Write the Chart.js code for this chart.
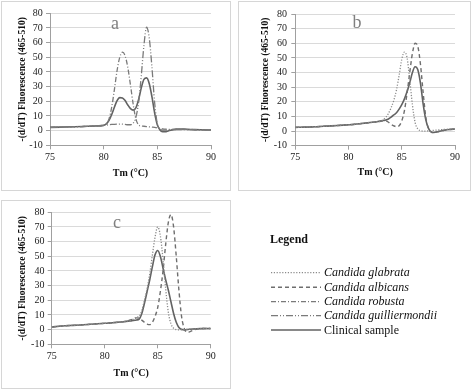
<!DOCTYPE html>
<html>
<head>
<meta charset="utf-8">
<script src="https://cdn.jsdelivr.net/npm/chart.js@4.4.0/dist/chart.umd.min.js"></script>
<style>
  html, body { margin: 0; padding: 0; background: #fff; }
  body { width: 474px; height: 391px; position: relative; overflow: hidden; font-family: "Liberation Serif", "Times New Roman", serif; }
  .box { position: absolute; border: 1px solid #d6d6d6; box-sizing: border-box; }
  canvas { position: absolute; }
  .plabel { position: absolute; font-size: 18px; color: #808080; line-height: 18px; transform: translate(-50%, -50%); }
  .legtitle { position: absolute; left: 270px; top: 231px; font-weight: bold; font-size: 12px; line-height: 16px; color: #111; }
  .legitem { position: absolute; left: 324px; font-size: 12px; line-height: 14px; color: #111; white-space: nowrap; }
  .legitem i { font-style: italic; }
  svg.leg { position: absolute; left: 0; top: 0; }
</style>
</head>
<body>
<div class="box" style="left:1px;top:1px;width:230px;height:190px;"></div>
<div class="box" style="left:238px;top:1px;width:233px;height:190px;"></div>
<div class="box" style="left:1px;top:200px;width:230px;height:189px;"></div>
<canvas id="ca" width="228" height="188" style="left:2px;top:2px;"></canvas>
<canvas id="cb" width="231" height="188" style="left:239px;top:2px;"></canvas>
<canvas id="cc" width="228" height="187" style="left:2px;top:201px;"></canvas>
<div class="plabel" style="left:115px;top:23px;">a</div>
<div class="plabel" style="left:357px;top:22px;">b</div>
<div class="plabel" style="left:117px;top:222px;">c</div>

<div class="legtitle">Legend</div>
<svg class="leg" width="474" height="391" id="legsvg"></svg>
<div id="legitems"></div>

<script>
// ---- Data ----
const temps = [75,76,77,78,79,80,80.25,80.5,80.75,81,81.25,81.5,81.75,82,82.25,82.5,82.75,83,83.25,83.5,83.75,84,84.25,84.5,84.75,85,85.25,85.5,85.75,86,86.25,86.5,86.75,87,87.25,87.5,87.75,88,88.5,89,89.5,90];

// Panel a
const robustaA = [2.2,2.4,2.6,2.8,3.1,3.6,4.5,8,16,28,41,50,53.5,51,43,31,18,8,4,3.2,3,2.8,2.6,2.4,2.2,1.9,1.5,1.2,1,0.9,0.9,0.9,0.9,0.9,0.9,0.8,0.8,0.8,0.7,0.6,0.5,0.5];
const guilliermondiiA = [2.2,2.4,2.6,2.8,3.1,3.6,3.8,4,4.2,4.3,4.4,4.5,4.4,4.2,4,4,5,9,19,37,58,70.5,63,43,19,4.5,1,0.3,0.3,0.5,0.6,0.7,0.7,0.7,0.7,0.7,0.7,0.7,0.6,0.6,0.5,0.5];
const clinicalA = [2.2,2.4,2.6,2.8,3.1,3.6,4.6,7,11,16,20.5,22.5,22.3,20.5,17.5,15,14,15.5,21,29,35,36,32,23,12,4,0.5,-0.7,-0.8,-0.2,0.3,0.7,1,1.1,1.1,1,0.9,0.8,0.7,0.6,0.5,0.4];

// Panel b
const glabrataB = [2.5,2.7,3.0,3.4,3.8,4.3,4.4,4.6,4.8,5.0,5.2,5.4,5.6,5.8,6.0,6.2,6.5,6.9,7.8,9.5,12,16,21,28,38,49,54,50,35,18,6,1.5,0.3,0,0,0.1,0.3,0.5,0.8,1.1,1.3,1.5];
const albicansB = [2.5,2.7,3.0,3.4,3.8,4.3,4.4,4.6,4.8,5.0,5.2,5.4,5.6,5.8,6.0,6.2,6.5,6.8,7.0,7.0,6.0,4.6,3.6,3.0,3.6,7,14,26,40,53,60,58,46,27,10,2,-0.5,-1,-0.2,0.6,1.1,1.4];
const clinicalB = [2.5,2.7,3.0,3.4,3.8,4.3,4.4,4.6,4.8,5.0,5.2,5.4,5.6,5.8,6.0,6.2,6.5,6.8,7.2,7.6,8.3,9.5,11,12.5,15,18,22,27,33,40,44,42,33,19,8,2,-0.5,-1,-0.2,0.6,1.1,1.4];

// Panel c
const glabrataC = [1.8,2.5,2.9,3.3,3.8,4.3,4.4,4.5,4.7,4.9,5.0,5.2,5.4,5.6,6.0,6.5,7.3,8.5,9,13,20,28,38,51,63,70,64,48,28,12,4,1,0,-0.2,-0.2,0,0.2,0.4,0.6,0.7,0.8,0.8];
const albicansC = [1.8,2.5,2.9,3.3,3.8,4.3,4.4,4.5,4.7,4.9,5.0,5.2,5.4,5.6,6.2,6.8,7.5,8,7.8,6.5,5,3.8,3.4,5,9,15,26,40,58,73,78.5,70,50,27,9,1,-1.8,-1.5,0,0.7,0.8,0.8];
const clinicalC = [1.8,2.5,2.9,3.3,3.8,4.3,4.4,4.5,4.7,4.9,5.0,5.2,5.4,5.6,5.8,6.0,6.3,6.6,7.2,11,18,26,34,43,51,54,50,42,34,27,19,11,5,1.5,0.2,-0.3,0,0.3,0.5,0.7,0.8,0.8];

const xTicks = [75, 80, 85, 90];
const yTicks = [-10, 0, 10, 20, 30, 40, 50, 60, 70, 80];

// ---- Styles ----
const STY = {
  glabrata: { dash: [1.2, 1.6], color: '#8a8a8a', width: 1.3 },
  albicans: { dash: [4, 3], color: '#6e6e6e', width: 1.4 },
  robusta: { dash: [5, 2, 1, 2], color: '#7a7a7a', width: 1.3 },
  guilliermondii: { dash: [7, 2, 1, 2, 1, 2], color: '#7a7a7a', width: 1.3 },
  clinical: { dash: [], color: '#626262', width: 1.6 }
};

function ds(values, key) {
  const s = STY[key];
  return {
    data: temps.map((t, i) => ({ x: t, y: values[i] })),
    borderColor: s.color, borderWidth: s.width, borderDash: s.dash,
    pointRadius: 0, fill: false, cubicInterpolationMode: 'monotone'
  };
}

const SERIF = "'Liberation Serif', 'Times New Roman', serif";
Chart.defaults.font.family = SERIF;
const tickFont = { family: SERIF, size: 10 };
const titleFont = { family: SERIF, size: 10, weight: 'bold' };

function makeChart(id, datasets, g) {
  return new Chart(document.getElementById(id), {
    type: 'line',
    data: { datasets },
    options: {
      responsive: false, animation: false, devicePixelRatio: 1,
      layout: { padding: { top: g.top, right: g.right, left: 0, bottom: 0 } },
      plugins: { legend: { display: false }, tooltip: { enabled: false } },
      scales: {
        x: {
          type: 'linear', min: xTicks[0], max: xTicks[xTicks.length - 1],
          afterBuildTicks: (s) => { s.ticks = xTicks.map(v => ({ value: v })); },
          ticks: { font: tickFont, color: '#222', padding: 2, maxRotation: 0, autoSkip: false },
          grid: { drawOnChartArea: false, tickLength: 4, tickColor: '#a0a0a0' },
          border: { color: '#a0a0a0' },
          title: { display: true, text: 'Tm (°C)', font: titleFont, color: '#111', padding: { top: 0, bottom: g.xtb } },
          afterFit: (s) => { s.height = g.xh; }
        },
        y: {
          type: 'linear', min: yTicks[0], max: yTicks[yTicks.length - 1],
          afterBuildTicks: (s) => { s.ticks = yTicks.map(v => ({ value: v })); },
          ticks: { font: tickFont, color: '#222', padding: g.ytp, autoSkip: false },
          grid: { color: '#dadada', tickLength: 4, tickColor: '#a0a0a0' },
          border: { color: '#a0a0a0' },
          title: { display: true, text: '-(d/dT) Fluorescence (465-510)', font: { family: SERIF, size: 9.5, weight: 'bold' }, color: '#111', padding: { top: g.ytt, bottom: 0 } },
          afterFit: (s) => { s.width = g.yw; }
        }
      }
    }
  });
}

function buildAll() {
  makeChart('ca', [ds(robustaA, 'robusta'), ds(guilliermondiiA, 'guilliermondii'), ds(clinicalA, 'clinical')],
    { top: 11.3, right: 19, xh: 44.7, yw: 48, xtb: 10.7, ytp: 3.3, ytt: 15 });
  makeChart('cb', [ds(glabrataB, 'glabrata'), ds(albicansB, 'albicans'), ds(clinicalB, 'clinical')],
    { top: 12, right: 15, xh: 44.3, yw: 56.3, xtb: 11.3, ytp: 4.3, ytt: 20.6 });
  makeChart('cc', [ds(glabrataC, 'glabrata'), ds(albicansC, 'albicans'), ds(clinicalC, 'clinical')],
    { top: 11.3, right: 19.3, xh: 43.7, yw: 49.7, xtb: 8.7, ytp: 3.3, ytt: 15 });
}

// ---- Legend ----
const legendNames = ['Candida glabrata', 'Candida albicans', 'Candida robusta', 'Candida guilliermondii', 'Clinical sample'];
const legendKeys = ['glabrata', 'albicans', 'robusta', 'guilliermondii', 'clinical'];
const legendY = [272.7, 287.3, 301.7, 315.7, 330];
const svg = document.getElementById('legsvg');
const items = document.getElementById('legitems');
legendNames.forEach((name, i) => {
  const s = STY[legendKeys[i]];
  const ln = document.createElementNS('http://www.w3.org/2000/svg', 'line');
  ln.setAttribute('x1', 271); ln.setAttribute('x2', 321);
  ln.setAttribute('y1', legendY[i]); ln.setAttribute('y2', legendY[i]);
  ln.setAttribute('stroke', s.color); ln.setAttribute('stroke-width', s.width);
  if (s.dash.length) ln.setAttribute('stroke-dasharray', s.dash.join(' '));
  svg.appendChild(ln);
  const d = document.createElement('div');
  d.className = 'legitem';
  d.style.top = (legendY[i] - 7.5) + 'px';
  if (i < 4) { const it = document.createElement('i'); it.textContent = name; d.appendChild(it); }
  else d.textContent = name;
  items.appendChild(d);
});

if (document.fonts && document.fonts.load) {
  Promise.all([
    document.fonts.load("10px 'Liberation Serif'"),
    document.fonts.load("bold 10px 'Liberation Serif'")
  ]).then(buildAll, buildAll);
} else {
  buildAll();
}
</script>
</body>
</html>
